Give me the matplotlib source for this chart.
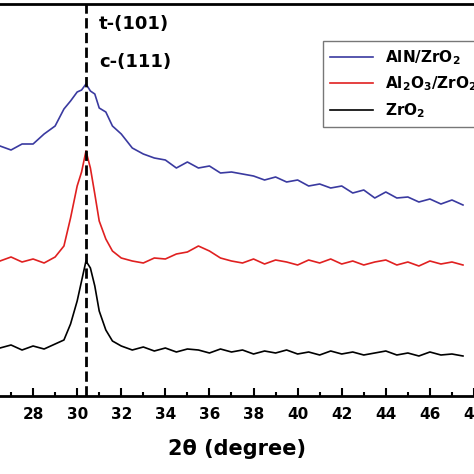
import matplotlib
matplotlib.use("Agg")
import matplotlib.pyplot as plt
from matplotlib.ticker import MultipleLocator

two_theta = [26.5,27,27.5,28,28.5,29,29.4,29.7,30.0,30.2,30.4,30.6,30.8,31.0,31.3,31.6,32,32.5,33,33.5,34,34.5,35,35.5,36,36.5,37,37.5,38,38.5,39,39.5,40,40.5,41,41.5,42,42.5,43,43.5,44,44.5,45,45.5,46,46.5,47,47.5]
aln_zro2 = [250,246,252,252,262,270,287,295,304,306,312,305,302,288,284,270,262,248,242,238,236,228,234,228,230,223,224,222,220,216,219,214,216,210,212,208,210,203,206,198,204,198,199,194,197,192,196,191]
al2o3_zro2 = [135,139,134,137,133,139,150,178,210,224,245,228,202,175,157,145,138,135,133,138,137,142,144,150,145,138,135,133,137,132,136,134,131,136,133,137,132,135,131,134,136,131,134,130,135,132,134,131]
zro2 = [48,51,46,50,47,52,56,72,95,115,135,128,110,85,66,55,50,46,49,45,48,44,47,46,43,47,44,46,42,45,43,46,42,44,41,45,42,44,41,43,45,41,43,40,44,41,42,40]
xticks = [28,30,32,34,36,38,40,42,44,46,48]
peak_pos = 30.4

fig = plt.figure(figsize=(4.74,4.74), dpi=100)
ax = fig.add_axes([0.0, 78/474, 1.0, 392/474])
ax.plot(two_theta, aln_zro2, color='#3a3aa0', lw=1.2, label=r'$\mathbf{AlN/ZrO_2}$')
ax.plot(two_theta, al2o3_zro2, color='#e02020', lw=1.2, label=r'$\mathbf{Al_2O_3/ZrO_2}$')
ax.plot(two_theta, zro2, color='black', lw=1.2, label=r'$\mathbf{ZrO_2}$')
ax.axvline(peak_pos, color='black', ls='--', lw=2)
ax.set_xlim(26.5, 47.55)
ax.set_ylim(0, 392)
ax.set_xticks(xticks)
ax.xaxis.set_minor_locator(MultipleLocator(1))
ax.tick_params(axis='x', which='major', direction='in', length=6, width=1.5, labelsize=11, pad=8)
ax.tick_params(axis='x', which='minor', direction='in', length=3, width=1.5)
ax.set_yticks([])
for lab in ax.get_xticklabels():
    lab.set_fontweight('bold')
for s in ['left','right']:
    ax.spines[s].set_visible(False)
for s in ['top','bottom']:
    ax.spines[s].set_linewidth(2)
ax.set_xlabel('2θ (degree)', fontsize=15, fontweight='bold', labelpad=12)
ax.text(31.0, 372, 't-(101)', fontsize=13, fontweight='bold', va='center')
ax.text(31.0, 334, 'c-(111)', fontsize=13, fontweight='bold', va='center')
leg = ax.legend(loc='upper left', bbox_to_anchor=(315/474, 1-29/392), fontsize=11,
                frameon=True, fancybox=False, edgecolor='#555555', handlelength=2.8,
                labelspacing=0.5, borderpad=0.5)
leg.get_frame().set_linewidth(1.0)
fig.savefig('out.png', dpi=100)
